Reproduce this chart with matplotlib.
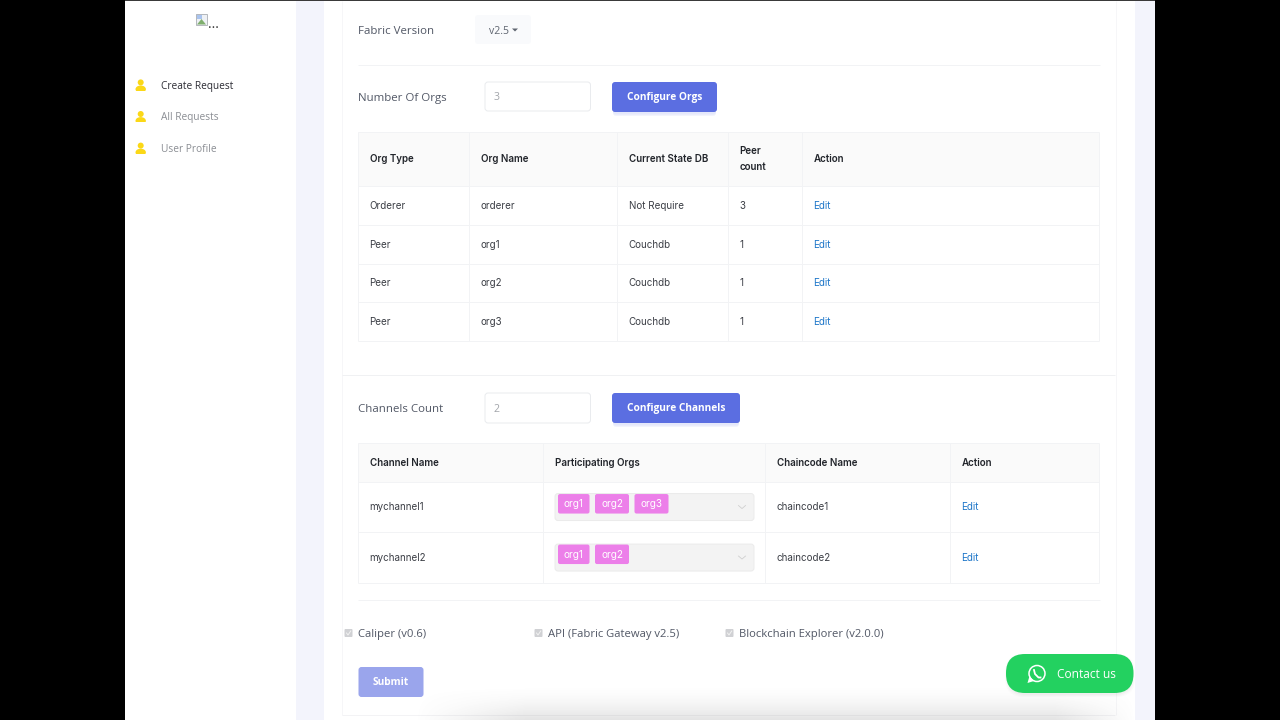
import numpy as np
import matplotlib
matplotlib.use('Agg')
import matplotlib.pyplot as plt
from matplotlib.patches import FancyBboxPatch, Rectangle, Circle, Ellipse

# menu + form contents
menu_items = ['Create Request', 'All Requests', 'User Profile']
menu_colors = ['#2b2b33', '#8a8d93', '#8a8d93']

org_headers = ['Org Type', 'Org Name', 'Current State DB', 'Peer\ncount', 'Action']
org_types = ['Orderer', 'Peer', 'Peer', 'Peer']
org_names = ['orderer', 'org1', 'org2', 'org3']
org_dbs = ['Not Require', 'Couchdb', 'Couchdb', 'Couchdb']
org_peers = ['3', '1', '1', '1']

channel_headers = ['Channel Name', 'Participating Orgs', 'Chaincode Name', 'Action']
channel_names = ['mychannel1', 'mychannel2']
channel_orgs = [['org1', 'org2', 'org3'], ['org1', 'org2']]
chaincodes = ['chaincode1', 'chaincode2']
checks = ['Caliper (v0.6)', 'API (Fabric Gateway v2.5)', 'Blockchain Explorer (v2.0.0)']

LABEL = 'Open Sans'
CELL = 'Inter'
LINE = '#f2f3f5'
HEAD_BG = '#fafafa'

fig = plt.figure(figsize=(12.8, 7.2), dpi=100, facecolor='black')
ax = fig.add_axes([0, 0, 1, 1])
ax.set_xlim(0, 1280)
ax.set_ylim(720, 0)
ax.axis('off')


def rect(x, y, w, h, color, z=1, **kw):
    ax.add_patch(Rectangle((x, y), w, h, facecolor=color, edgecolor='none', zorder=z, **kw))


def rounded(x, y, w, h, color, r=3, edge='none', z=3, lw=0.7):
    p = FancyBboxPatch((x + r, y + r), w - 2 * r, h - 2 * r,
                       boxstyle=f'round,pad={r},rounding_size={r}',
                       facecolor=color, edgecolor=edge, linewidth=lw, zorder=z)
    ax.add_patch(p)
    return p


def hline(x0, x1, y, color=LINE, z=2):
    ax.plot([x0, x1], [y, y], color=color, lw=0.7, zorder=z, solid_capstyle='butt')


def vline(x, y0, y1, color=LINE, z=2):
    ax.plot([x, x], [y0, y1], color=color, lw=0.7, zorder=z, solid_capstyle='butt')


def txt(x, y, s, size=7.05, color='#3c3f46', family=CELL, weight='normal', ha='left', z=6):
    ax.text(x, y, s, fontsize=size, color=color, family=family, fontweight=weight,
            ha=ha, va='center', zorder=z, linespacing=1.75)


def button(x, y, w, h, label, color='#5b6ee1', shadow=True):
    if shadow:
        for i, a in enumerate([0.03, 0.05, 0.07]):
            rounded(x + 1, y + 2, w - 2, h + i, '#5b6ee1', r=3, z=2).set_alpha(a)
    rounded(x, y, w, h, color)
    txt(x + w / 2, y + h / 2 + 0.5, label, size=7.3, color='white', family=LABEL, weight='bold', ha='center')


def person(x, y):
    ax.add_patch(Circle((x, y - 2.6), 3, facecolor='#fbd817', edgecolor='none', zorder=4))
    ax.add_patch(Ellipse((x, y + 4.2), 10.4, 7.4, facecolor='#fbd817', edgecolor='none', zorder=4))
    rect(x - 6, y + 5.6, 12, 4, 'white', z=4)


# page background
rect(125, 0, 1030, 720, '#f3f4fc', z=0)
rect(125, 1, 171, 719, 'white', z=1)
rect(324, 1, 811, 719, 'white', z=1)
rect(125, 0, 1030, 1, '#3a3a3a', z=7)
vline(341.5, 1, 715, '#f6f6f8')
vline(1115.5, 1, 715, '#f6f6f8')
hline(342, 1115, 375, '#f0f1f3')
hline(342, 1115, 715, '#f3f3f5')

# sidebar logo (broken image icon)
rect(196, 14, 11, 11, '#eef1f5', z=3)
ax.add_patch(Rectangle((196, 14), 11, 11, facecolor='none', edgecolor='#a9adb3', lw=0.6, zorder=4))
ax.add_patch(plt.Polygon([[197, 24.5], [201.5, 19], [206, 24.5]], facecolor='#7fae6d', edgecolor='none', zorder=5))
rect(197, 15, 4.5, 3.5, '#a9c3ee', z=5)
txt(213, 25, '...', size=10, color='#333333', family=LABEL, ha='center')

for i, item in enumerate(menu_items):
    y = 85 + i * 31.6
    person(140.7, y)
    txt(161, y + 1.2, item, size=7.3, color=menu_colors[i], family=LABEL)

# fabric version row
txt(358, 32, 'Fabric Version', size=8.25, color='#525866', family=LABEL)
rounded(475, 15, 56, 29, '#f9fafc', r=3)
txt(489, 31, 'v2.5', size=7.6, color='#5f6570', family=LABEL)
ax.add_patch(plt.Polygon([[512, 28.5], [518, 28.5], [515, 31.5]], facecolor='#5f6570', edgecolor='none', zorder=6))
hline(358, 1100, 65)

# orgs row
txt(358, 99, 'Number Of Orgs', size=8.25, color='#525866', family=LABEL)
rounded(485, 82, 105.5, 29, 'white', r=3, edge='#e9ebee')
txt(494, 98, '3', size=7.6, color='#a2a5aa', family=LABEL)
button(612, 82, 105, 30, 'Configure Orgs')

# orgs table
org_cols = [358, 469, 617, 728, 802, 1099]
org_head = (131.5, 185.5)
org_rows = [185.5, 224.5, 263.5, 302, 340.5]
rect(org_cols[0], org_head[0], org_cols[-1] - org_cols[0], org_head[1] - org_head[0], HEAD_BG, z=1)
for x in org_cols:
    vline(x, org_head[0], org_rows[-1])
hline(org_cols[0], org_cols[-1], org_head[0])
for y in org_rows:
    hline(org_cols[0], org_cols[-1], y)
for x, head in zip(org_cols, org_headers):
    txt(x + 11.6, 159, head, size=7.05, color='#22252b', weight='semibold')
for i in range(len(org_types)):
    y = (org_rows[i] + org_rows[i + 1]) / 2 + 0.7
    for x, val in zip(org_cols, [org_types[i], org_names[i], org_dbs[i], org_peers[i]]):
        txt(x + 11.6, y, val)
    txt(org_cols[4] + 11.6, y, 'Edit', color='#1f77c9')

# channels row
txt(358, 410, 'Channels Count', size=8.25, color='#525866', family=LABEL)
rounded(485, 393, 105.5, 30, 'white', r=3, edge='#e9ebee')
txt(494, 409, '2', size=7.6, color='#a2a5aa', family=LABEL)
button(612, 393, 128, 30, 'Configure Channels')

# channels table
ch_cols = [358, 543, 765, 950, 1099]
ch_head = (442.5, 481.5)
ch_rows = [481.5, 532, 582.5]
rect(ch_cols[0], ch_head[0], ch_cols[-1] - ch_cols[0], ch_head[1] - ch_head[0], HEAD_BG, z=1)
for x in ch_cols:
    vline(x, ch_head[0], ch_rows[-1])
hline(ch_cols[0], ch_cols[-1], ch_head[0])
for y in ch_rows:
    hline(ch_cols[0], ch_cols[-1], y)
for x, head in zip(ch_cols, channel_headers):
    txt(x + 11.6, 462.5, head, size=7.05, color='#22252b', weight='semibold')
for i in range(len(channel_names)):
    y = (ch_rows[i] + ch_rows[i + 1]) / 2 + 0.3
    txt(ch_cols[0] + 11.6, y, channel_names[i])
    txt(ch_cols[2] + 11.6, y, chaincodes[i])
    txt(ch_cols[3] + 11.6, y, 'Edit', color='#1f77c9')
    rounded(555, y - 13.5, 199, 27, '#f3f3f3', r=3, edge='#ebebeb')
    x = 558
    for org in channel_orgs[i]:
        w = 31.5 if org == 'org1' else 34
        rounded(x, y - 13, w, 19.5, '#ec7fe9', r=2)
        txt(x + w / 2, y - 3, org, size=7.2, color='white', ha='center')
        x += w + 5.5
    ax.plot([738.5, 742, 745.5], [y - 1.5, y + 1.5, y - 1.5], color='#cfcfcf', lw=0.6, zorder=5)

hline(358, 1100, 600)

# add-on checkboxes
for x, label in zip([344.5, 534.5, 725.5], checks):
    rounded(x, 629, 8, 8, '#d0d1d4', r=1)
    ax.plot([x + 2, x + 3.5, x + 6.2], [633, 635, 631], color='#f2f2f2', lw=0.7, zorder=5)
    txt(x + 13.5, 634.5, label, size=8.15, color='#525866', family=LABEL)

# submit + contact
button(358.5, 667, 65, 30, 'Submit', color='#9aa5ec', shadow=False)

# soft grey glow along the bottom edge
yy, xx = np.mgrid[680:720, 380:1135]
fade_x = np.clip((xx - 415) / 110, 0, 1) * np.clip((1135 - xx) / 80, 0, 1)
fade_y = np.clip((yy - 685) / 35, 0, 1) ** 1.6
glow = np.zeros(xx.shape + (4,))
glow[..., :3] = 0.45
glow[..., 3] = 0.2 * fade_x * fade_y
ax.imshow(glow, extent=(380, 1135, 720, 680), aspect='auto', zorder=2, interpolation='bilinear')
ax.set_xlim(0, 1280)
ax.set_ylim(720, 0)

for i, a in enumerate([0.03, 0.04, 0.05]):
    rounded(1005 + i, 654 + i, 130 - 2 * i, 43 - 2 * i, '#888888', r=19, z=7).set_alpha(a)
rounded(1006, 654, 127.5, 39, '#23d160', r=19, z=8)
ax.add_patch(Circle((1037, 673.5), 8, facecolor='none', edgecolor='white', lw=1.1, zorder=9))
ax.add_patch(plt.Polygon([[1027.5, 683], [1029.5, 676], [1034, 681]], facecolor='white', edgecolor='none', zorder=9))
ax.plot([1034, 1035, 1038.5, 1040.5], [670, 674, 677.5, 677.5], color='white', lw=1.3, zorder=10)
txt(1057, 674.2, 'Contact us', size=8.6, color='white', family=LABEL, z=10)

fig.savefig('out.png', dpi=100, facecolor='black')
